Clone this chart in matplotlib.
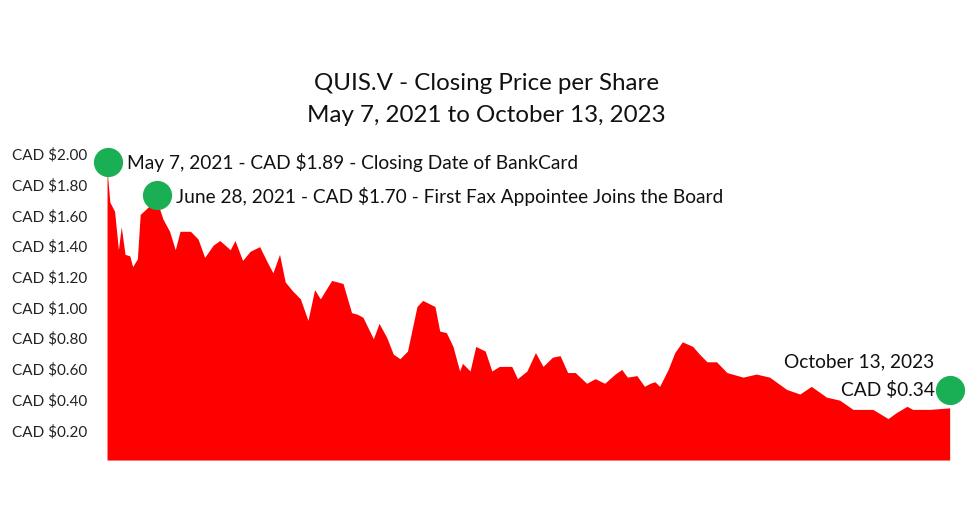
import pandas as pd
import matplotlib.pyplot as plt
import matplotlib.ticker as mticker
import matplotlib.transforms as mtrans

# closing prices
dates = ["2021-05-07", "2021-05-10", "2021-05-15", "2021-05-19", "2021-05-22", "2021-05-26",
         "2021-05-31", "2021-06-03", "2021-06-08", "2021-06-11", "2021-06-18", "2021-06-28",
         "2021-07-05", "2021-07-12", "2021-07-18", "2021-07-23", "2021-08-03", "2021-08-11",
         "2021-08-18", "2021-08-27", "2021-09-03", "2021-09-14", "2021-09-19", "2021-09-27",
         "2021-10-05", "2021-10-15", "2021-10-23", "2021-10-29", "2021-11-05", "2021-11-11",
         "2021-11-19", "2021-11-27", "2021-12-05", "2021-12-12", "2021-12-18", "2021-12-26",
         "2021-12-30", "2022-01-11", "2022-01-20", "2022-01-26", "2022-02-01", "2022-02-12",
         "2022-02-18", "2022-02-26", "2022-03-05", "2022-03-12", "2022-03-20", "2022-03-30",
         "2022-04-05", "2022-04-18", "2022-04-23", "2022-04-30", "2022-05-07", "2022-05-14",
         "2022-05-17", "2022-05-25", "2022-05-31", "2022-06-10", "2022-06-17", "2022-06-25",
         "2022-07-08", "2022-07-14", "2022-07-24", "2022-08-02", "2022-08-10", "2022-08-20",
         "2022-08-28", "2022-09-05", "2022-09-13", "2022-09-25", "2022-10-04", "2022-10-14",
         "2022-10-25", "2022-11-01", "2022-11-07", "2022-11-17", "2022-11-25", "2022-12-01",
         "2022-12-06", "2022-12-11", "2022-12-20", "2022-12-27", "2023-01-04", "2023-01-15",
         "2023-01-22", "2023-01-30", "2023-02-09", "2023-02-20", "2023-03-09", "2023-03-23",
         "2023-04-06", "2023-04-24", "2023-05-08", "2023-05-20", "2023-06-05", "2023-06-19",
         "2023-07-03", "2023-07-24", "2023-08-09", "2023-08-18", "2023-08-29", "2023-09-04",
         "2023-09-22", "2023-10-13"]
prices = [1.89, 1.68, 1.62, 1.37, 1.52, 1.34,
          1.33, 1.26, 1.31, 1.60, 1.64, 1.70,
          1.57, 1.49, 1.37, 1.49, 1.49, 1.44,
          1.32, 1.40, 1.43, 1.37, 1.43, 1.30,
          1.36, 1.39, 1.29, 1.22, 1.34, 1.16,
          1.10, 1.05, 0.91, 1.11, 1.05, 1.13,
          1.17, 1.15, 0.96, 0.95, 0.93, 0.79,
          0.89, 0.80, 0.69, 0.66, 0.71, 1.00,
          1.04, 1.00, 0.84, 0.83, 0.74, 0.58,
          0.63, 0.58, 0.74, 0.71, 0.58, 0.61,
          0.61, 0.53, 0.58, 0.70, 0.61, 0.67,
          0.68, 0.57, 0.57, 0.50, 0.53, 0.50,
          0.56, 0.59, 0.54, 0.55, 0.48, 0.50,
          0.51, 0.48, 0.59, 0.70, 0.77, 0.74,
          0.69, 0.64, 0.64, 0.57, 0.54, 0.56,
          0.54, 0.46, 0.43, 0.48, 0.41, 0.39,
          0.33, 0.33, 0.27, 0.31, 0.35, 0.33,
          0.33, 0.34]

ticks = [0.2, 0.4, 0.6, 0.8, 1.0, 1.2, 1.4, 1.6, 1.8, 2.0]

notes = [
    ("2021-05-07", 1.89, "May 7, 2021 - CAD $1.89 - Closing Date of BankCard"),
    ("2021-06-28", 1.70, "June 28, 2021 - CAD $1.70 - First Fax Appointee Joins the Board"),
]
last_date, last_price = "2023-10-13", 0.34
last_lines = ["October 13, 2023", "CAD $0.34"]

plt.rcParams['font.family'] = ['Lato', 'DejaVu Sans']

x = pd.to_datetime(dates)

fig = plt.figure(figsize=(9.73, 5.10), dpi=100)
ax = fig.add_axes([0.110, 0.096, 0.866, 0.602])
ax.fill_between(x, prices, 0, color='#ff0000', linewidth=0)
ax.set_xlim(x[0], x[-1])
ax.set_ylim(0, 2.0)
ax.set_yticks(ticks)
ax.yaxis.set_major_formatter(mticker.FuncFormatter(lambda v, p: "CAD ${:.2f}".format(v)))
ax.tick_params(axis='y', length=0, labelsize=11, pad=14, labelcolor='#222222')
ax.set_xticks([])
for s in ax.spines.values():
    s.set_visible(False)

green = '#1aaf54'
offsets = [8, 4]
for (d, p, txt), off in zip(notes, offsets):
    ax.plot([pd.Timestamp(d)], [p], 'o', color=green, markersize=20, clip_on=False,
            transform=ax.transData + mtrans.ScaledTranslation(1 / 100, off / 100, fig.dpi_scale_trans))
    ax.annotate(txt, xy=(pd.Timestamp(d), p), xytext=(20, off), textcoords='offset pixels',
                ha='left', va='center', fontsize=13.75, color='#111111')

ax.plot([pd.Timestamp(last_date)], [last_price], 'o', color=green, markersize=20, clip_on=False,
        transform=ax.transData + mtrans.ScaledTranslation(0, 18 / 100, fig.dpi_scale_trans))
for txt, dy in zip(last_lines, [47, 19]):
    ax.annotate(txt, xy=(pd.Timestamp(last_date), last_price), xytext=(-15, dy),
                textcoords='offset pixels', ha='right', va='center', fontsize=13.75,
                color='#111111')

fig.text(0.5, 0.837, "QUIS.V - Closing Price per Share",
         ha='center', va='center', fontsize=17.4, color='#111111')
fig.text(0.5, 0.773, "May 7, 2021 to October 13, 2023",
         ha='center', va='center', fontsize=17.4, color='#111111')

fig.savefig('out.png', dpi=100, facecolor='white')
